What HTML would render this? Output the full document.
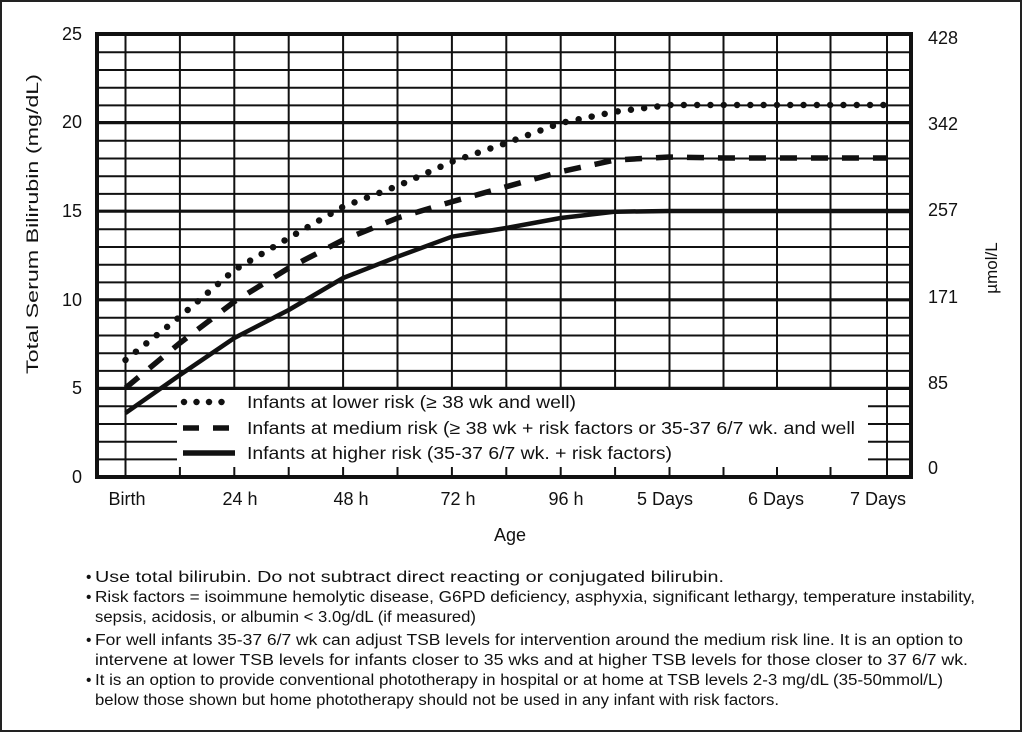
<!DOCTYPE html>
<html><head><meta charset="utf-8"><style>
html,body{margin:0;padding:0;background:#fff}
svg{display:block}
text{font-family:"Liberation Sans",Arial,sans-serif;fill:#111}
</style></head><body>
<svg width="1024" height="733" viewBox="0 0 1024 733" xmlns="http://www.w3.org/2000/svg">
<rect x="1" y="1" width="1020" height="730" fill="#fff" stroke="#222" stroke-width="2"/>
<g stroke="#111" stroke-width="2">
<line x1="97" x2="911" y1="52.3" y2="52.3"/><line x1="97" x2="911" y1="70" y2="70"/><line x1="97" x2="911" y1="87.7" y2="87.7"/><line x1="97" x2="911" y1="105.4" y2="105.4"/>
<line x1="97" x2="911" y1="140.8" y2="140.8"/><line x1="97" x2="911" y1="158.5" y2="158.5"/><line x1="97" x2="911" y1="176.2" y2="176.2"/><line x1="97" x2="911" y1="193.9" y2="193.9"/>
<line x1="97" x2="911" y1="229.3" y2="229.3"/><line x1="97" x2="911" y1="247" y2="247"/><line x1="97" x2="911" y1="264.7" y2="264.7"/><line x1="97" x2="911" y1="282.4" y2="282.4"/>
<line x1="97" x2="911" y1="317.8" y2="317.8"/><line x1="97" x2="911" y1="335.5" y2="335.5"/><line x1="97" x2="911" y1="353.2" y2="353.2"/><line x1="97" x2="911" y1="370.9" y2="370.9"/>
<line x1="97" x2="177" y1="406.3" y2="406.3"/><line x1="97" x2="177" y1="424" y2="424"/><line x1="97" x2="177" y1="441.7" y2="441.7"/><line x1="97" x2="177" y1="459.4" y2="459.4"/>
<line x1="868" x2="911" y1="406.3" y2="406.3"/><line x1="868" x2="911" y1="424" y2="424"/><line x1="868" x2="911" y1="441.7" y2="441.7"/><line x1="868" x2="911" y1="459.4" y2="459.4"/>
<line x1="125.5" x2="125.5" y1="34" y2="477"/>
<line x1="887" x2="887" y1="34" y2="477"/>
<line x1="179.9" x2="179.9" y1="34" y2="388"/><line x1="234.3" x2="234.3" y1="34" y2="388"/><line x1="288.7" x2="288.7" y1="34" y2="388"/><line x1="343.1" x2="343.1" y1="34" y2="388"/><line x1="397.5" x2="397.5" y1="34" y2="388"/><line x1="451.9" x2="451.9" y1="34" y2="388"/><line x1="506.3" x2="506.3" y1="34" y2="388"/><line x1="560.7" x2="560.7" y1="34" y2="388"/><line x1="615.1" x2="615.1" y1="34" y2="388"/><line x1="669.5" x2="669.5" y1="34" y2="388"/><line x1="723.5" x2="723.5" y1="34" y2="388"/><line x1="777" x2="777" y1="34" y2="388"/><line x1="830.5" x2="830.5" y1="34" y2="388"/>
<line x1="179.9" x2="179.9" y1="467" y2="477"/><line x1="234.3" x2="234.3" y1="467" y2="477"/><line x1="288.7" x2="288.7" y1="467" y2="477"/><line x1="343.1" x2="343.1" y1="467" y2="477"/><line x1="397.5" x2="397.5" y1="467" y2="477"/><line x1="451.9" x2="451.9" y1="467" y2="477"/><line x1="506.3" x2="506.3" y1="467" y2="477"/><line x1="560.7" x2="560.7" y1="467" y2="477"/><line x1="615.1" x2="615.1" y1="467" y2="477"/><line x1="669.5" x2="669.5" y1="467" y2="477"/><line x1="723.5" x2="723.5" y1="467" y2="477"/><line x1="777" x2="777" y1="467" y2="477"/><line x1="830.5" x2="830.5" y1="467" y2="477"/>
</g>
<g stroke="#111" stroke-width="3.2">
<line x1="97" x2="911" y1="122.6" y2="122.6"/><line x1="97" x2="911" y1="211.2" y2="211.2"/><line x1="97" x2="911" y1="299.8" y2="299.8"/><line x1="97" x2="911" y1="388.4" y2="388.4"/>
</g>
<rect x="97" y="34" width="814" height="443" fill="none" stroke="#111" stroke-width="4"/>
<g fill="none" stroke="#111" stroke-linejoin="round">
<polyline stroke-width="6.5" stroke-linecap="round" stroke-dasharray="0 13.3" points="125.5,360 179.9,316.7 234.3,270 288.7,238 343.1,206.7 397.5,186 451.9,161.7 506.3,143 560.7,123 615.1,111.7 669.5,105 723.5,105 777,105 830.5,105 887,105"/>
<polyline stroke-width="5.5" stroke-dasharray="17 14" points="125.5,388 179.9,343 234.3,301.7 288.7,268 343.1,240 397.5,218 451.9,201.7 506.3,186.7 560.7,171.7 615.1,160 669.5,157 723.5,158 777,158 830.5,158 887,158"/>
<polyline stroke-width="4.5" points="125.5,413 179.9,375 234.3,338 288.7,310 343.1,278 397.5,256.7 451.9,236.7 506.3,228 560.7,218 615.1,211.7 669.5,211 911,211"/>
</g>
<g stroke="#111" fill="none">
<line x1="184" x2="232" y1="402" y2="402" stroke-width="6.5" stroke-linecap="round" stroke-dasharray="0 12.5"/>
<line x1="183" x2="236" y1="428" y2="428" stroke-width="5.5" stroke-dasharray="16 14"/>
<line x1="183" x2="235" y1="453" y2="453" stroke-width="5.5"/>
</g>
<g font-size="17.5">
<text x="247" y="408" textLength="329" lengthAdjust="spacingAndGlyphs">Infants at lower risk (≥ 38 wk and well)</text>
<text x="247" y="434" textLength="608" lengthAdjust="spacingAndGlyphs">Infants at medium risk (≥ 38 wk + risk factors or 35-37 6/7 wk. and well</text>
<text x="247" y="459" textLength="425" lengthAdjust="spacingAndGlyphs">Infants at higher risk (35-37 6/7 wk. + risk factors)</text>
</g>
<g font-size="18" text-anchor="end">
<text x="82" y="40">25</text><text x="82" y="128">20</text><text x="82" y="217">15</text><text x="82" y="306">10</text><text x="82" y="394">5</text><text x="82" y="483">0</text>
</g>
<g font-size="18">
<text x="928" y="44">428</text><text x="928" y="130">342</text><text x="928" y="216">257</text><text x="928" y="303">171</text><text x="928" y="389">85</text><text x="928" y="474">0</text>
</g>
<g font-size="18" text-anchor="middle">
<text x="127" y="505">Birth</text><text x="240" y="505">24 h</text><text x="351" y="505">48 h</text><text x="458" y="505">72 h</text><text x="566" y="505">96 h</text><text x="665" y="505">5 Days</text><text x="776" y="505">6 Days</text><text x="878" y="505">7 Days</text>
<text x="510" y="541">Age</text>
</g>
<text font-size="17" text-anchor="middle" transform="translate(38,224) rotate(-90)" textLength="300" lengthAdjust="spacingAndGlyphs">Total Serum Bilirubin (mg/dL)</text>
<text font-size="17" text-anchor="middle" transform="translate(997,268) rotate(-90)">µmol/L</text>
<g font-size="15.5">
<text x="86" y="582">•</text><text x="95" y="582" textLength="629" lengthAdjust="spacingAndGlyphs">Use total bilirubin.  Do not subtract direct reacting or conjugated bilirubin.</text>
<text x="86" y="602">•</text><text x="95" y="602" textLength="880" lengthAdjust="spacingAndGlyphs">Risk factors = isoimmune hemolytic disease, G6PD deficiency, asphyxia, significant lethargy, temperature instability,</text>
<text x="95" y="622" textLength="381" lengthAdjust="spacingAndGlyphs">sepsis, acidosis, or albumin &lt; 3.0g/dL (if measured)</text>
<text x="86" y="645">•</text><text x="95" y="645" textLength="868" lengthAdjust="spacingAndGlyphs">For well infants 35-37 6/7 wk can adjust TSB levels for intervention around the medium risk line.  It is an option to</text>
<text x="95" y="665" textLength="873" lengthAdjust="spacingAndGlyphs">intervene at lower TSB levels for infants closer to 35 wks and at higher TSB levels for those closer to 37 6/7 wk.</text>
<text x="86" y="685">•</text><text x="95" y="685" textLength="848" lengthAdjust="spacingAndGlyphs">It is an option to provide conventional phototherapy in hospital or at home at TSB levels 2-3 mg/dL (35-50mmol/L)</text>
<text x="95" y="705" textLength="684" lengthAdjust="spacingAndGlyphs">below those shown but home phototherapy should not be used in any infant with risk factors.</text>
</g>
</svg>
</body></html>
